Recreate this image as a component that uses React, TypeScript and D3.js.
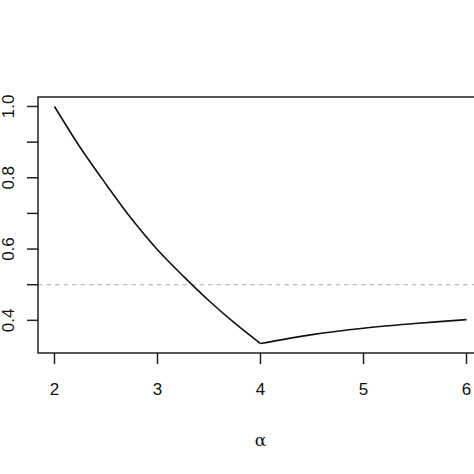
import React from "react";
import * as d3 from "d3";

const alphaDecreasing = [2, 2.25, 2.5, 2.75, 3, 3.25, 3.5, 3.75, 4];
const valueDecreasing = [1.0, 0.885, 0.782, 0.684, 0.598, 0.524, 0.455, 0.392, 0.335];
const alphaIncreasing = [4, 4.5, 5, 5.5, 6];
const valueIncreasing = [0.335, 0.36, 0.378, 0.391, 0.402];
const xTicks = [2, 3, 4, 5, 6];
const yTicks = [0.4, 0.5, 0.6, 0.7, 0.8, 0.9, 1.0];
const yLabels = [0.4, 0.6, 0.8, 1.0];
const referenceLevel = 0.5;
const xTitle = "α";

const W = 474;
const H = 474;
const left = 38;
const top = 97;
const bottom = 353;
const right = 483;

export default function App() {
  const allY = [...valueDecreasing, ...valueIncreasing];
  const yMin = d3.min(allY) as number;
  const yMax = d3.max(allY) as number;
  const yPad = (yMax - yMin) * 0.04;
  const xPad = (6 - 2) * 0.04;
  const x = d3.scaleLinear().domain([2 - xPad, 6 + xPad]).range([left, right]);
  const y = d3.scaleLinear().domain([yMin - yPad, yMax + yPad]).range([bottom, top]);

  const line = d3
    .line<[number, number]>()
    .x((d) => x(d[0]))
    .y((d) => y(d[1]))
    .curve(d3.curveCatmullRom.alpha(0.5));

  const seg1 = alphaDecreasing.map((a, i) => [a, valueDecreasing[i]] as [number, number]);
  const seg2 = alphaIncreasing.map((a, i) => [a, valueIncreasing[i]] as [number, number]);

  const font = "'Liberation Sans', Arial, Helvetica, sans-serif";
  const stroke = "#222";

  return (
    <svg
      width={W}
      height={H}
      style={{ position: "absolute", left: 0, top: 0, background: "#fff" }}
    >
      <rect x={0} y={0} width={W} height={H} fill="#fff" />
      <line
        x1={left}
        x2={right}
        y1={y(referenceLevel)}
        y2={y(referenceLevel)}
        stroke="#bdbdbd"
        strokeWidth={1.2}
        strokeDasharray="4.5,4"
      />
      <path d={line(seg1) || ""} fill="none" stroke="#111" strokeWidth={1.6} strokeLinejoin="round" />
      <path d={line(seg2) || ""} fill="none" stroke="#111" strokeWidth={1.6} strokeLinejoin="round" />
      <rect
        x={left}
        y={top}
        width={right - left}
        height={bottom - top}
        fill="none"
        stroke={stroke}
        strokeWidth={1.5}
      />
      {xTicks.map((t) => (
        <g key={"xt" + t}>
          <line x1={x(t)} x2={x(t)} y1={bottom} y2={bottom + 11} stroke={stroke} strokeWidth={1.5} />
          <text
            x={x(t)}
            y={394.5}
            textAnchor="middle"
            fontFamily={font}
            fontSize={17}
            fill="#111"
          >
            {t}
          </text>
        </g>
      ))}
      {yTicks.map((t) => (
        <line
          key={"yt" + t}
          x1={left - 11}
          x2={left}
          y1={y(t)}
          y2={y(t)}
          stroke={stroke}
          strokeWidth={1.5}
        />
      ))}
      {yLabels.map((t) => (
        <text
          key={"yl" + t}
          transform={`translate(13.5, ${y(t)}) rotate(-90)`}
          textAnchor="middle"
          fontFamily={font}
          fontSize={17}
          fill="#111"
        >
          {t.toFixed(1)}
        </text>
      ))}
      <text
        x={x(4)}
        y={446}
        textAnchor="middle"
        fontFamily="'DejaVu Serif', 'Liberation Serif', serif"
        fontSize={17}
        fill="#111"
      >
        {xTitle}
      </text>
    </svg>
  );
}
